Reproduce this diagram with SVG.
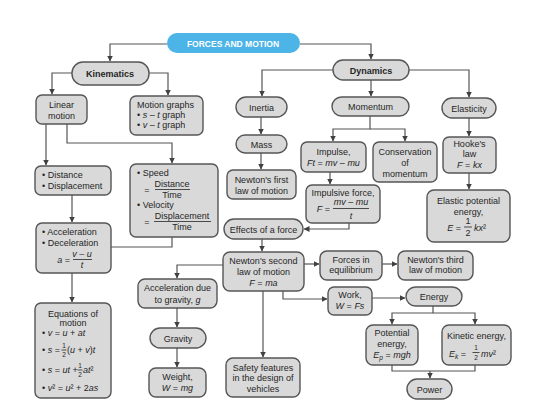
<svg xmlns="http://www.w3.org/2000/svg" width="560" height="420" viewBox="0 0 560 420">
<style>
text{font-family:"Liberation Sans",Arial,sans-serif;font-size:9px;fill:#262626;text-anchor:middle}
.l{text-anchor:start}
.r{text-anchor:end}
.b{font-weight:bold}
.i{font-style:italic}
.s{font-size:6.5px}
.n rect{fill:#d9d9d9;stroke:#555555;stroke-width:1.4}
.fl{stroke:#262626;stroke-width:0.8}
#conn path{fill:none;stroke:#555555;stroke-width:1.2}
</style>
<defs>
<marker id="a" markerUnits="userSpaceOnUse" markerWidth="6" markerHeight="6" refX="5.5" refY="3" orient="auto">
<path d="M0,0 L6,3 L0,6 z" fill="#404040"/>
</marker>
</defs>
<rect width="560" height="420" fill="#ffffff"/>

<g id="conn">
<path d="M167,44 H110 V61" marker-end="url(#a)"/>
<path d="M300,44 H371 V59" marker-end="url(#a)"/>
<path d="M72,73 H52 V94" marker-end="url(#a)"/>
<path d="M149,73 H168 V95" marker-end="url(#a)"/>
<path d="M46,124 V165" marker-end="url(#a)"/>
<path d="M67,124 V143 H172 V163" marker-end="url(#a)"/>
<path d="M72,195 V222" marker-end="url(#a)"/>
<path d="M172,237 V247 H111"/>
<path d="M72,273 V302" marker-end="url(#a)"/>
<path d="M333,70 H262 V96" marker-end="url(#a)"/>
<path d="M371,80 V96" marker-end="url(#a)"/>
<path d="M409,70 H469 V97" marker-end="url(#a)"/>
<path d="M261,117 V134" marker-end="url(#a)"/>
<path d="M261,153 V169" marker-end="url(#a)"/>
<path d="M370,116 V129 H333 V141" marker-end="url(#a)"/>
<path d="M370,129 H405 V141" marker-end="url(#a)"/>
<path d="M330,172 V184" marker-end="url(#a)"/>
<path d="M349,223 V229 H304" marker-end="url(#a)"/>
<path d="M262,239 V251" marker-end="url(#a)"/>
<path d="M223,265 H177 V278" marker-end="url(#a)"/>
<path d="M177,308 V327" marker-end="url(#a)"/>
<path d="M177,348 V367" marker-end="url(#a)"/>
<path d="M263,291 V357" marker-end="url(#a)"/>
<path d="M304,264 H319" marker-end="url(#a)"/>
<path d="M382,264 H397" marker-end="url(#a)"/>
<path d="M283,291 V299 H327" marker-end="url(#a)"/>
<path d="M372,298 H405" marker-end="url(#a)"/>
<path d="M433,306 V313 H392 V324" marker-end="url(#a)"/>
<path d="M433,313 H475 V324" marker-end="url(#a)"/>
<path d="M392,365 V371 H475 V365"/>
<path d="M430,371 V378" marker-end="url(#a)"/>
<path d="M469,118 V136" marker-end="url(#a)"/>
<path d="M469,173 V189" marker-end="url(#a)"/>
</g>

<g id="title">
<rect x="167" y="33" width="133" height="20" rx="10" fill="#4cb4e7"/>
<text x="233" y="47" class="b" style="fill:#ffffff;font-size:8.5px">FORCES AND MOTION</text>
</g>

<g id="kinematics" class="n">
<rect x="72" y="62" width="77" height="23" rx="11"/>
<text x="110" y="76.5" class="b">Kinematics</text>
</g>

<g id="dynamics" class="n">
<rect x="333" y="60" width="76" height="20" rx="10"/>
<text x="371" y="73.5" class="b">Dynamics</text>
</g>

<g id="linear" class="n">
<rect x="36" y="95" width="51" height="29" rx="6"/>
<text x="61.5" y="108">Linear</text>
<text x="61.5" y="118.5">motion</text>
</g>

<g id="graphs" class="n">
<rect x="130" y="96" width="73" height="39" rx="6"/>
<text x="137" y="108" class="l">Motion graphs</text>
<text x="137" y="118" class="l">• <tspan class="i">s</tspan> – <tspan class="i">t</tspan> graph</text>
<text x="137" y="128" class="l">• <tspan class="i">v</tspan> – <tspan class="i">t</tspan> graph</text>
</g>

<g id="distance" class="n">
<rect x="35" y="166" width="76" height="29" rx="6"/>
<text x="42" y="178" class="l">• Distance</text>
<text x="42" y="188.5" class="l">• Displacement</text>
</g>

<g id="speed" class="n">
<rect x="130" y="164" width="88" height="73" rx="6"/>
<text x="137" y="176" class="l">• Speed</text>
<text x="147" y="193">=</text>
<text x="172" y="187">Distance</text>
<line x1="155" y1="189.5" x2="190" y2="189.5" class="fl"/>
<text x="172" y="198">Time</text>
<text x="137" y="208" class="l">• Velocity</text>
<text x="147" y="225">=</text>
<text x="182" y="219">Displacement</text>
<line x1="154" y1="221.5" x2="211" y2="221.5" class="fl"/>
<text x="182" y="230">Time</text>
</g>

<g id="accel" class="n">
<rect x="36" y="223" width="75" height="50" rx="6"/>
<text x="42" y="235" class="l">• Acceleration</text>
<text x="42" y="245.5" class="l">• Deceleration</text>
<text x="70" y="263" class="r"><tspan class="i">a</tspan> =</text>
<text x="82" y="257" class="i">v – u</text>
<line x1="73" y1="259.5" x2="92" y2="259.5" class="fl"/>
<text x="82" y="268" class="i">t</text>
</g>

<g id="equations" class="n">
<rect x="35" y="303" width="76" height="95" rx="6"/>
<text x="73" y="316.5">Equations of</text>
<text x="73" y="326">motion</text>
<text x="42" y="336" class="l">• <tspan class="i">v</tspan> = <tspan class="i">u</tspan> + <tspan class="i">at</tspan></text>
<text x="42" y="353" class="l">• <tspan class="i">s</tspan> =</text>
<text x="64" y="348" class="s">1</text>
<line x1="61.5" y1="350" x2="66.5" y2="350" class="fl"/>
<text x="64" y="357" class="s">2</text>
<text x="67" y="353" class="l">(<tspan class="i">u</tspan> + <tspan class="i">v</tspan>)<tspan class="i">t</tspan></text>
<text x="42" y="373" class="l">• <tspan class="i">s</tspan> = <tspan class="i">ut</tspan> +</text>
<text x="80" y="368" class="s">1</text>
<line x1="77.5" y1="370" x2="82.5" y2="370" class="fl"/>
<text x="80" y="377" class="s">2</text>
<text x="83" y="373" class="l"><tspan class="i">at</tspan>²</text>
<text x="42" y="391" class="l">• <tspan class="i">v</tspan>² = <tspan class="i">u</tspan>² + 2<tspan class="i">as</tspan></text>
</g>

<g id="inertia" class="n">
<rect x="236" y="97" width="51" height="20" rx="10"/>
<text x="261.5" y="110.5">Inertia</text>
</g>

<g id="mass" class="n">
<rect x="236" y="135" width="51" height="18" rx="9"/>
<text x="261.5" y="147.5">Mass</text>
</g>

<g id="newton1" class="n">
<rect x="227" y="170" width="69" height="29" rx="6"/>
<text x="261.5" y="183">Newton's first</text>
<text x="261.5" y="193.5">law of motion</text>
</g>

<g id="momentum" class="n">
<rect x="332" y="97" width="77" height="19" rx="9.5"/>
<text x="370.5" y="109.5">Momentum</text>
</g>

<g id="elasticity" class="n">
<rect x="442" y="98" width="54" height="20" rx="10"/>
<text x="469" y="111.5">Elasticity</text>
</g>

<g id="impulse" class="n">
<rect x="301" y="142" width="65" height="30" rx="6"/>
<text x="333.5" y="155">Impulse,</text>
<text x="333.5" y="165.5" class="i">Ft <tspan style="font-style:normal">=</tspan> mv <tspan style="font-style:normal">–</tspan> mu</text>
</g>

<g id="conservation" class="n">
<rect x="373" y="142" width="64" height="40" rx="6"/>
<text x="405" y="155">Conservation</text>
<text x="405" y="166">of</text>
<text x="405" y="176.5">momentum</text>
</g>

<g id="impulsive" class="n">
<rect x="306" y="185" width="74" height="38" rx="6"/>
<text x="343" y="196">Impulsive force,</text>
<text x="330" y="212" class="r"><tspan class="i">F</tspan> =</text>
<text x="351" y="205" class="i">mv <tspan style="font-style:normal">–</tspan> mu</text>
<line x1="333" y1="208.5" x2="369" y2="208.5" class="fl"/>
<text x="351" y="219" class="i">t</text>
</g>

<g id="hooke" class="n">
<rect x="443" y="137" width="53" height="36" rx="6"/>
<text x="469.5" y="146.5">Hooke's</text>
<text x="469.5" y="156.5">law</text>
<text x="469.5" y="168"><tspan class="i">F</tspan> = <tspan class="i">kx</tspan></text>
</g>

<g id="elastic" class="n">
<rect x="427" y="190" width="83" height="52" rx="7"/>
<text x="468.5" y="204">Elastic potential</text>
<text x="468.5" y="215">energy,</text>
<text x="461" y="231" class="r"><tspan class="i">E</tspan> =</text>
<text x="468" y="224">1</text>
<line x1="464" y1="227" x2="472" y2="227" class="fl"/>
<text x="468" y="236">2</text>
<text x="474" y="231" class="l i">kx<tspan style="font-style:normal">²</tspan></text>
</g>

<g id="effects" class="n">
<rect x="224" y="219" width="79" height="20" rx="10"/>
<text x="263.5" y="232.5">Effects of a force</text>
</g>

<g id="newton2" class="n">
<rect x="223" y="252" width="81" height="39" rx="7"/>
<text x="263.5" y="264">Newton's second</text>
<text x="263.5" y="275">law of motion</text>
<text x="263.5" y="285.5"><tspan class="i">F</tspan> = <tspan class="i">ma</tspan></text>
</g>

<g id="gaccel" class="n">
<rect x="138" y="279" width="79" height="29" rx="7"/>
<text x="177.5" y="291">Acceleration due</text>
<text x="177.5" y="302.5">to gravity, <tspan class="i">g</tspan></text>
</g>

<g id="gravity" class="n">
<rect x="150" y="328" width="56" height="20" rx="10"/>
<text x="178" y="341.5">Gravity</text>
</g>

<g id="weight" class="n">
<rect x="149" y="368" width="57" height="29" rx="7"/>
<text x="177.5" y="380">Weight,</text>
<text x="177.5" y="390.5"><tspan class="i">W</tspan> = <tspan class="i">mg</tspan></text>
</g>

<g id="safety" class="n">
<rect x="226" y="358" width="74" height="39" rx="7"/>
<text x="263" y="371">Safety features</text>
<text x="263" y="381">in the design of</text>
<text x="263" y="391.5">vehicles</text>
</g>

<g id="equilibrium" class="n">
<rect x="320" y="251" width="62" height="29" rx="7"/>
<text x="351" y="262.5">Forces in</text>
<text x="351" y="273">equilibrium</text>
</g>

<g id="newton3" class="n">
<rect x="398" y="251" width="75" height="29" rx="7"/>
<text x="435.5" y="262.5">Newton's third</text>
<text x="435.5" y="273">law of motion</text>
</g>

<g id="work" class="n">
<rect x="328" y="287" width="44" height="28" rx="6"/>
<text x="350" y="297.5">Work,</text>
<text x="350" y="309"><tspan class="i">W</tspan> = <tspan class="i">Fs</tspan></text>
</g>

<g id="energy" class="n">
<rect x="406" y="287" width="56" height="19" rx="9.5"/>
<text x="434" y="299.5">Energy</text>
</g>

<g id="potential" class="n">
<rect x="366" y="325" width="52" height="40" rx="7"/>
<text x="392" y="336">Potential</text>
<text x="392" y="347">energy,</text>
<text x="392" y="358"><tspan class="i">E</tspan><tspan class="i s" dy="2">p</tspan><tspan dy="-2"> = </tspan><tspan class="i">mgh</tspan></text>
</g>

<g id="kinetic" class="n">
<rect x="442" y="325" width="69" height="40" rx="7"/>
<text x="476.5" y="339">Kinetic energy,</text>
<text x="466" y="357" class="r"><tspan class="i">E</tspan><tspan class="i s" dy="2">k</tspan><tspan dy="-2"> =</tspan></text>
<text x="476" y="350" class="s">1</text>
<line x1="472.5" y1="352.5" x2="479.5" y2="352.5" class="fl"/>
<text x="476" y="360" class="s">2</text>
<text x="481" y="357" class="l i">mv<tspan style="font-style:normal">²</tspan></text>
</g>

<g id="power" class="n">
<rect x="407" y="379" width="45" height="20" rx="10"/>
<text x="429.5" y="392.5">Power</text>
</g>
</svg>
